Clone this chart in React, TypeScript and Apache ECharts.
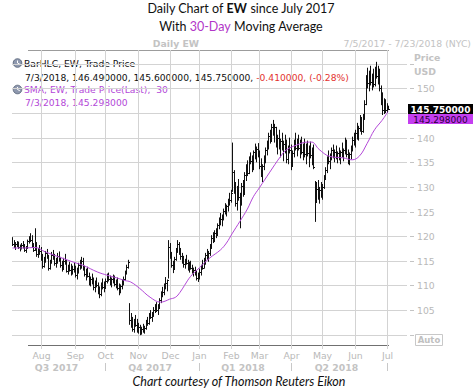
import React, { useEffect, useRef } from "react";
import * as echarts from "echarts";

// ---- Daily HLC bars, 7/5/2017 .. 7/3/2018 (trading days) ----
const highs = [
  // Jul 2017
  119.8, 119.2, 118.8, 119.0, 118.9, 118.3, 118.6, 119.0, 118.4, 118.0, 119.3, 120.0, 120.6, 120.2, 118.6, 121.6, 118.8, 117.6, 118.2,
  // Aug
  117.8, 116.4, 115.8, 117.0, 117.4, 116.2, 115.2, 116.8, 117.2, 116.4, 115.6, 116.6, 116.9, 115.8, 115.0, 115.6, 116.4, 115.2, 114.2, 114.8, 114.4, 114.0, 114.6,
  // Sep
  114.0, 113.6, 114.6, 115.2, 115.8, 115.6, 114.0, 113.4, 113.8, 112.6, 111.8, 112.4, 111.6, 111.0, 111.6, 110.6, 109.8, 110.6, 111.4, 110.8,
  // Oct
  111.4, 112.4, 112.6, 112.0, 111.6, 112.2, 112.0, 111.2, 111.6, 110.4, 110.2, 111.2, 111.8, 113.0, 114.2, 115.2, 106.4, 104.4, 103.6, 103.2, 104.0, 103.2,
  // Nov
  102.4, 102.0, 101.6, 102.2, 101.8, 103.0, 103.6, 104.4, 105.0, 104.6, 105.6, 106.2, 106.6, 106.2, 107.4, 108.8, 109.7, 110.4, 111.7, 111.2, 119.2,
  // Dec
  118.6, 116.8, 115.0, 115.8, 117.6, 119.2, 118.8, 117.6, 116.6, 116.0, 115.4, 116.2, 115.2, 114.8, 115.0, 114.2, 113.6, 113.8, 113.0, 112.6,
  // Jan 2018
  113.4, 114.2, 115.2, 115.6, 116.6, 117.4, 117.0, 118.4, 120.2, 120.8, 121.2, 121.6, 122.6, 123.8, 124.7, 124.4, 125.6, 126.7, 126.4, 127.6, 128.8,
  // Feb
  129.4, 139.0, 133.4, 131.0, 130.2, 131.6, 128.8, 130.8, 131.4, 133.0, 134.6, 135.4, 136.2, 137.0, 136.4, 137.4, 138.8, 138.2, 138.9,
  // Mar
  137.4, 135.8, 134.6, 136.4, 138.0, 139.4, 141.0, 141.6, 142.8, 143.6, 142.8, 142.2, 140.6, 141.6, 139.8, 141.0, 139.4, 140.6, 139.6, 138.4, 140.0,
  // Apr
  138.6, 137.4, 139.6, 141.0, 139.8, 140.6, 139.6, 140.2, 138.8, 139.8, 138.8, 139.4, 138.4, 139.2, 138.0, 138.6, 131.2, 131.0, 131.4, 130.0, 131.0,
  // May
  130.6, 132.4, 134.0, 136.2, 137.4, 136.8, 138.0, 138.6, 137.6, 138.4, 137.2, 138.0, 137.4, 139.0, 137.8, 140.0, 139.6, 137.6, 137.0, 138.4, 140.2, 141.0,
  // Jun
  141.6, 143.0, 142.4, 144.6, 144.2, 144.8, 147.6, 152.7, 154.2, 153.6, 154.6, 153.0, 154.0, 154.4, 155.4, 154.6, 154.0, 150.6, 149.2, 148.0, 147.8,
  // Jul
  147.0, 146.49,
];

const lows = [
  118.0, 117.6, 117.2, 117.8, 117.4, 116.9, 117.3, 117.5, 116.8, 116.6, 117.4, 118.5, 118.8, 117.6, 116.8, 117.0, 115.8, 115.6, 116.2,
  115.0, 113.4, 113.6, 114.6, 115.4, 113.0, 113.2, 114.4, 115.2, 114.0, 113.6, 114.4, 114.8, 113.6, 112.8, 113.2, 114.2, 112.6, 112.2, 112.8, 112.0, 112.2, 112.6,
  111.6, 111.2, 112.4, 113.2, 113.4, 113.0, 111.8, 111.0, 111.6, 110.0, 109.8, 110.2, 109.0, 108.6, 109.6, 108.2, 107.4, 107.8, 109.2, 108.6,
  109.4, 110.4, 110.8, 110.0, 109.6, 110.4, 109.8, 109.4, 109.0, 108.0, 108.4, 109.2, 110.0, 111.0, 112.2, 113.4, 102.0, 101.4, 100.6, 100.4, 101.6, 100.4,
  100.2, 99.9, 100.0, 100.4, 100.2, 101.0, 101.8, 102.0, 103.2, 102.6, 103.6, 104.4, 104.6, 104.0, 105.2, 106.4, 107.6, 108.0, 109.2, 108.8, 111.4,
  115.4, 113.6, 112.5, 113.2, 115.0, 116.6, 116.2, 115.2, 114.4, 113.6, 113.4, 114.2, 113.0, 112.6, 113.2, 112.4, 111.8, 112.0, 111.0, 110.7,
  111.2, 112.0, 113.2, 113.4, 114.2, 115.2, 114.8, 116.0, 117.4, 118.6, 118.8, 119.6, 120.2, 121.4, 122.2, 122.0, 123.2, 124.4, 124.0, 125.0, 126.2,
  126.8, 129.0, 128.6, 126.0, 125.2, 127.2, 121.6, 126.2, 128.0, 128.4, 131.2, 132.2, 132.6, 134.6, 133.0, 133.4, 135.6, 135.0, 136.0,
  133.6, 132.0, 131.0, 133.4, 134.8, 136.4, 137.6, 138.8, 139.2, 140.4, 139.0, 138.0, 136.6, 137.6, 136.0, 137.4, 135.2, 136.8, 134.8, 134.6, 136.8,
  133.4, 134.2, 136.0, 137.4, 136.2, 137.4, 135.8, 136.6, 135.4, 136.0, 134.6, 136.2, 134.0, 135.8, 134.4, 133.6, 122.9, 126.8, 127.4, 126.6, 127.8,
  127.4, 129.6, 131.4, 132.8, 134.6, 133.6, 135.4, 135.8, 135.0, 135.6, 134.8, 135.4, 134.6, 136.0, 135.2, 136.6, 136.0, 134.6, 134.4, 135.6, 137.2, 138.4,
  138.0, 139.6, 139.4, 141.2, 140.6, 141.0, 143.6, 146.6, 150.0, 149.4, 150.6, 149.6, 150.2, 150.4, 152.0, 150.8, 149.4, 146.6, 144.6, 144.8, 145.0,
  145.0, 145.6,
];

const closes = [
  118.5, 118.0, 118.4, 118.6, 117.7, 117.8, 118.2, 117.9, 117.2, 117.6, 119.0, 119.6, 119.2, 118.0, 117.2, 118.4, 116.4, 116.9, 117.0,
  115.6, 114.0, 115.2, 116.5, 115.9, 113.6, 114.8, 116.2, 115.6, 114.6, 115.0, 116.0, 115.2, 114.2, 113.4, 115.0, 114.6, 113.0, 113.6, 113.2, 112.6, 113.4, 113.0,
  112.2, 113.0, 114.2, 113.8, 115.0, 113.6, 112.4, 112.8, 112.0, 110.6, 111.2, 110.8, 109.6, 110.4, 110.0, 108.8, 108.2, 110.0, 109.6, 109.4,
  110.8, 111.8, 111.2, 110.6, 111.2, 111.6, 110.2, 110.8, 109.4, 108.6, 109.8, 110.6, 111.4, 112.6, 113.8, 114.8, 103.0, 102.4, 101.2, 102.6, 102.0, 101.0,
  101.6, 100.6, 101.2, 100.8, 101.4, 102.6, 102.4, 104.0, 103.6, 104.2, 105.0, 105.6, 105.0, 105.8, 107.0, 108.4, 108.6, 110.0, 110.4, 111.0, 117.8,
  116.0, 114.2, 113.4, 115.4, 117.2, 118.4, 116.8, 116.0, 115.0, 114.4, 115.0, 114.6, 113.6, 114.2, 113.6, 112.8, 113.2, 112.4, 111.6, 112.2,
  112.8, 113.8, 113.6, 115.2, 116.2, 115.8, 116.6, 118.0, 119.6, 119.0, 120.6, 120.2, 122.2, 123.0, 123.4, 124.0, 125.2, 125.6, 126.2, 127.0, 127.4,
  128.8, 133.0, 129.2, 126.8, 129.6, 128.0, 127.4, 130.2, 128.6, 132.4, 134.0, 132.8, 135.8, 135.2, 133.6, 137.0, 136.4, 137.6, 136.6,
  134.2, 133.0, 134.2, 135.8, 137.4, 138.8, 140.4, 139.4, 142.2, 141.0, 142.2, 138.6, 140.0, 138.2, 139.4, 137.8, 138.8, 137.2, 135.6, 138.0, 137.4,
  134.2, 136.8, 139.0, 138.0, 139.2, 137.8, 138.6, 137.0, 138.2, 136.6, 138.0, 136.8, 137.6, 136.4, 137.2, 134.0, 127.0, 129.6, 128.0, 129.4, 128.6,
  130.0, 132.0, 133.4, 135.8, 135.2, 136.2, 137.4, 136.4, 137.0, 136.0, 136.8, 135.8, 137.0, 136.6, 137.4, 139.2, 136.6, 135.4, 136.6, 138.0, 139.6, 140.6,
  141.0, 140.4, 142.0, 143.8, 141.4, 144.4, 146.8, 152.0, 151.0, 153.0, 151.4, 152.4, 150.8, 153.8, 152.6, 153.6, 150.0, 147.2, 145.6, 147.4, 145.6,
  146.16, 145.75,
];

// ---- 30-day SMA (trading-day index, value) ----
const smaIndex = [0, 8, 15, 22, 41, 47, 57, 63, 70, 75, 79, 85, 92, 99, 102, 105, 109, 112, 115, 119, 125, 132, 139, 143, 147, 152, 157, 161, 165, 172, 179, 183, 190, 197, 200, 205, 212, 221, 227, 232, 237, 242, 247, 251];
const smaValues = [117.6, 117.6, 117.7, 116.8, 114.7, 114.1, 112.7, 112.1, 111.5, 111.0, 110.7, 109.4, 107.6, 106.6, 106.8, 107.2, 107.6, 108.6, 110.0, 111.8, 113.6, 115.6, 117.2, 118.6, 120.6, 123.0, 125.5, 128.0, 129.8, 133.0, 136.1, 137.5, 138.5, 139.1, 139.1, 137.6, 136.2, 135.9, 135.5, 136.3, 138.8, 141.6, 143.5, 145.298];

// ---- axis ticks ----
const monthStarts = [19, 42, 62, 84, 105, 125, 146, 165, 186, 207, 229, 250];
const monthLabels = ["Aug", "Sep", "Oct", "Nov", "Dec", "Jan", "Feb", "Mar", "Apr", "May", "Jun", "Jul"];
const quarterBounds = [0, 62, 125, 186, 250];
const quarterLabels = ["Q3 2017", "Q4 2017", "Q1 2018", "Q2 2018"];
const yGridValues = [100, 105, 110, 115, 120, 125, 130, 135, 140, 145, 150, 155];
// 145 is hidden behind the last-value boxes in the reference
const yLabelValues = [105, 110, 115, 120, 125, 130, 135, 140, 150];

const lastDate = "7/3/2018";
const changeAbs = -0.41;
const changePct = -0.28;

const Y_MIN = 97.9;
const Y_MAX = 157.8;
const X_MIN = -0.3;
const X_MAX = 263.7;

const EF = '"DejaVu Sans", Verdana, sans-serif';
const TF = 'Lato, "Open Sans", sans-serif';
const GRID_C = "#d3d3d3";
const AXIS_TXT = "#b9b9b9";
const PURPLE = "#b348d8";

function txt(x: number, y: number, text: string, fill: string, font: string, align: string) {
  return {
    type: "text",
    x,
    y,
    style: { text, fill, font, align, verticalAlign: "middle", textAlign: align, textVerticalAlign: "middle" },
  };
}

export default function App() {
  const ref = useRef<HTMLDivElement>(null);

  useEffect(() => {
    document.body.style.margin = "0";
    if (!ref.current) return;
    const chart = echarts.init(ref.current, null, { renderer: "svg" });

    const n = highs.length - 1;
    const legend2 =
      `{k|${lastDate}, ${highs[n].toFixed(6)}, ${lows[n].toFixed(6)}, ${closes[n].toFixed(6)}, }` +
      `{r|${changeAbs.toFixed(6)}, (${changePct.toFixed(2)}%)}`;

    const barData = highs.map((h, i) => [i, h, lows[i], closes[i]]);
    const smaData = smaIndex.map((x, i) => [x, smaValues[i]]);

    const option: any = {
      animation: false,
      backgroundColor: "#ffffff",
      grid: { left: 12, right: 67, top: 50, bottom: 46 },
      xAxis: { type: "value", min: X_MIN, max: X_MAX, show: false },
      yAxis: { type: "value", min: Y_MIN, max: Y_MAX, show: false },
      series: [
        {
          type: "custom",
          name: "ygrid",
          z: 1,
          silent: true,
          data: yGridValues.map((v) => [0, v]),
          encode: { x: 0, y: 1 },
          renderItem: (params: any, api: any) => {
            const cs = params.coordSys;
            const v = api.value(1);
            const y = Math.round(api.coord([0, v])[1]) + 0.5;
            const right = cs.x + cs.width;
            const children: any[] = [
              { type: "line", shape: { x1: cs.x, y1: y, x2: right, y2: y }, style: { stroke: GRID_C, lineWidth: 1 } },
              { type: "line", shape: { x1: right + 3, y1: y, x2: right + 7, y2: y }, style: { stroke: "#c4c4c4", lineWidth: 1 } },
            ];
            if (yLabelValues.indexOf(v) >= 0) {
              children.push(txt(right + 10, y, String(v), AXIS_TXT, `9.3px ${EF}`, "left"));
            }
            return { type: "group", children };
          },
        },
        {
          type: "custom",
          name: "xgrid",
          z: 1,
          silent: true,
          data: monthStarts.map((m, i) => [m, Y_MIN, i]),
          encode: { x: 0, y: 1 },
          renderItem: (params: any, api: any) => {
            const cs = params.coordSys;
            const x = Math.round(api.coord([api.value(0), Y_MIN])[0]) + 0.5;
            const bottom = cs.y + cs.height;
            return {
              type: "group",
              children: [
                { type: "line", shape: { x1: x, y1: cs.y, x2: x, y2: bottom + 4 }, style: { stroke: GRID_C, lineWidth: 1 } },
                txt(x, bottom + 10, monthLabels[api.value(2)], AXIS_TXT, `9.3px ${EF}`, "center"),
              ],
            };
          },
        },
        {
          type: "custom",
          name: "quarters",
          z: 1,
          silent: true,
          data: quarterLabels.map((q, i) => [(quarterBounds[i] + quarterBounds[i + 1]) / 2 - 1.5, Y_MIN, i]),
          encode: { x: 0, y: 1 },
          renderItem: (params: any, api: any) => {
            const cs = params.coordSys;
            const i = api.value(2);
            const x = api.coord([api.value(0), Y_MIN])[0];
            const xb = Math.round(api.coord([quarterBounds[i + 1], Y_MIN])[0]) + 0.5;
            const bottom = cs.y + cs.height;
            return {
              type: "group",
              children: [
                txt(x, bottom + 22, quarterLabels[i], "#c3c3c3", `bold 9.3px ${EF}`, "center"),
                { type: "line", shape: { x1: xb, y1: bottom + 18, x2: xb, y2: bottom + 26 }, style: { stroke: "#c8c8c8", lineWidth: 1 } },
              ],
            };
          },
        },
        {
          type: "custom",
          name: "BarHLC",
          z: 3,
          data: barData,
          encode: { x: 0, y: [1, 2, 3] },
          renderItem: (params: any, api: any) => {
            const i = api.value(0);
            const pH = api.coord([i, api.value(1)]);
            const pL = api.coord([i, api.value(2)]);
            const pC = api.coord([i, api.value(3)]);
            const x = Math.round(pH[0]) + 0.5;
            let y2 = pL[1];
            if (y2 - pH[1] < 1) y2 = pH[1] + 1;
            return {
              type: "group",
              children: [
                { type: "line", shape: { x1: x, y1: pH[1], x2: x, y2: y2 }, style: { stroke: "#111111", lineWidth: 1 } },
                { type: "line", shape: { x1: x, y1: Math.round(pC[1]) + 0.5, x2: x + 1.5, y2: Math.round(pC[1]) + 0.5 }, style: { stroke: "#111111", lineWidth: 1 } },
              ],
            };
          },
        },
        {
          type: "line",
          name: "SMA",
          z: 4,
          data: smaData,
          smooth: 0.4,
          showSymbol: false,
          symbol: "none",
          lineStyle: { color: PURPLE, width: 1 },
        },
        {
          type: "custom",
          name: "lastvalues",
          z: 5,
          silent: true,
          data: [[n, closes[n], smaValues[smaValues.length - 1]]],
          encode: { x: 0, y: 1 },
          renderItem: (params: any, api: any) => {
            const cs = params.coordSys;
            const right = cs.x + cs.width;
            const y = Math.round(api.coord([api.value(0), api.value(1)])[1]);
            return {
              type: "group",
              children: [
                { type: "rect", shape: { x: right + 1, y: y - 5, width: 65, height: 10 }, style: { fill: "#000000" } },
                {
                  type: "text",
                  x: right + 33.5,
                  y: y + 0.5,
                  style: { text: api.value(1).toFixed(6), fill: "#ffffff", font: `bold 9px ${EF}`, lineHeight: 9, align: "center", verticalAlign: "middle", textAlign: "center", textVerticalAlign: "middle" },
                },
                { type: "rect", shape: { x: right + 1, y: y + 5, width: 65, height: 10 }, style: { fill: "#c43ef0" } },
                {
                  type: "text",
                  x: right + 33.5,
                  y: y + 10.5,
                  style: { text: api.value(2).toFixed(6), fill: "#2a0038", font: `9px ${EF}`, lineHeight: 9, align: "center", verticalAlign: "middle", textAlign: "center", textVerticalAlign: "middle" },
                },
              ],
            };
          },
        },
      ],
      graphic: [
        // titles
        {
          type: "text",
          x: 241,
          y: 8,
          style: {
            text: "{a|Daily Chart of }{b|EW}{a| since July 2017}",
            align: "center",
            verticalAlign: "middle",
            textAlign: "center",
            textVerticalAlign: "middle",
            rich: {
              a: { fontFamily: TF, fontSize: 12.5, fill: "#111111" },
              b: { fontFamily: TF, fontSize: 12.5, fontWeight: "bold", fill: "#111111" },
            },
          },
        },
        {
          type: "text",
          x: 241,
          y: 26.5,
          style: {
            text: "{a|With }{p|30-Day}{a| Moving Average}",
            align: "center",
            verticalAlign: "middle",
            textAlign: "center",
            textVerticalAlign: "middle",
            rich: {
              a: { fontFamily: TF, fontSize: 12.5, fill: "#111111" },
              p: { fontFamily: TF, fontSize: 12.5, fill: "#b236c8" },
            },
          },
        },
        // header
        txt(176, 43, "Daily EW", "#c3c3c3", `bold 9.3px ${EF}`, "center"),
        txt(471, 43, "7/5/2017 - 7/23/2018 (NYC)", "#c3c3c3", `9.3px ${EF}`, "right"),
        { type: "line", shape: { x1: 28, y1: 50.5, x2: 389, y2: 50.5 }, style: { stroke: "#9c9c9c", lineWidth: 1 } },
        { type: "line", shape: { x1: 28, y1: 345.5, x2: 389, y2: 345.5 }, style: { stroke: "#707070", lineWidth: 1 } },
        txt(414, 57.5, "Price", "#c3c3c3", `bold 9.3px ${EF}`, "left"),
        txt(414, 71.5, "USD", "#c3c3c3", `bold 9.3px ${EF}`, "left"),
        // legend icons
        { type: "circle", shape: { cx: 17.5, cy: 63, r: 4.3 }, style: { fill: "#8e98ae", stroke: "#4e5a70", lineWidth: 0.8 } },
        { type: "polyline", shape: { points: [[17.5, 60.5], [17.5, 63], [19.8, 64.2]] }, style: { stroke: "#ffffff", lineWidth: 1, fill: "none" } },
        { type: "circle", shape: { cx: 17.5, cy: 89.5, r: 4.3 }, style: { fill: "#8e98ae", stroke: "#4e5a70", lineWidth: 0.8 } },
        { type: "polyline", shape: { points: [[17.5, 87], [17.5, 89.5], [19.8, 90.7]] }, style: { stroke: "#ffffff", lineWidth: 1, fill: "none" } },
        // legend texts
        txt(24, 63, "BarHLC, EW, Trade Price", "#111111", `9.2px ${EF}`, "left"),
        {
          type: "text",
          x: 25,
          y: 77,
          style: {
            text: legend2,
            align: "left",
            verticalAlign: "middle",
            textAlign: "left",
            textVerticalAlign: "middle",
            rich: {
              k: { fontFamily: EF, fontSize: 9.2, fill: "#111111" },
              r: { fontFamily: EF, fontSize: 9.2, fill: "#e3332f" },
            },
          },
        },
        txt(24, 89.5, "SMA, EW, Trade Price(Last),  30", PURPLE, `9.2px ${EF}`, "left"),
        txt(25, 102, `${lastDate}, ${smaValues[smaValues.length - 1].toFixed(6)}`, PURPLE, `9.2px ${EF}`, "left"),
        // Auto box
        { type: "rect", shape: { x: 415.5, y: 334.5, width: 27, height: 11 }, style: { fill: "#ffffff", stroke: "#c8c8c8", lineWidth: 1 } },
        txt(429, 340, "Auto", "#c0c0c0", `bold 8.5px ${EF}`, "center"),
        // footer
        txt(239, 381, "Chart courtesy of Thomson Reuters Eikon", "#111111", `italic 12.5px ${TF}`, "center"),
      ],
    };

    chart.setOption(option);
    return () => {
      chart.dispose();
    };
  }, []);

  return <div ref={ref} style={{ width: 474, height: 391 }} />;
}
